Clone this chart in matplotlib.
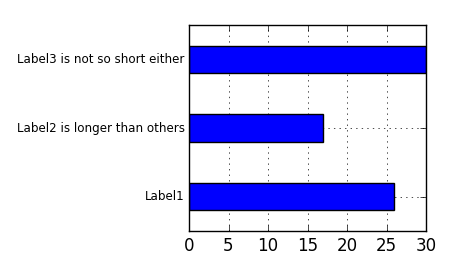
import matplotlib
matplotlib.use("Agg")
import matplotlib.pyplot as plt

plt.style.use('classic')

labels = ["Label1", "Label2 is longer than others", "Label3 is not so short either"]
values = [26, 17, 30]
xticks = [0, 5, 10, 15, 20, 25, 30]

fig = plt.figure(figsize=(4.74, 2.58), dpi=100)
fig.patch.set_facecolor('white')
ax = fig.add_axes([189/474, 1-231/258, (426-189)/474, (231-25)/258])
pos = list(range(len(labels)))
ax.barh(pos, values, height=0.4, align='center', color='b', edgecolor='k')
ax.set_yticks(pos)
ax.set_yticklabels(labels, fontsize=8.6)
ax.tick_params(axis='y', pad=3)
ax.set_xticks(xticks)
ax.tick_params(axis='x', labelsize=12)
ax.set_xlim(0, 30)
ax.set_ylim(-0.5, 2.5)
ax.grid(True, linestyle=':', color='k')
ax.set_axisbelow(True)
fig.savefig("out.png", dpi=100, facecolor='white')
